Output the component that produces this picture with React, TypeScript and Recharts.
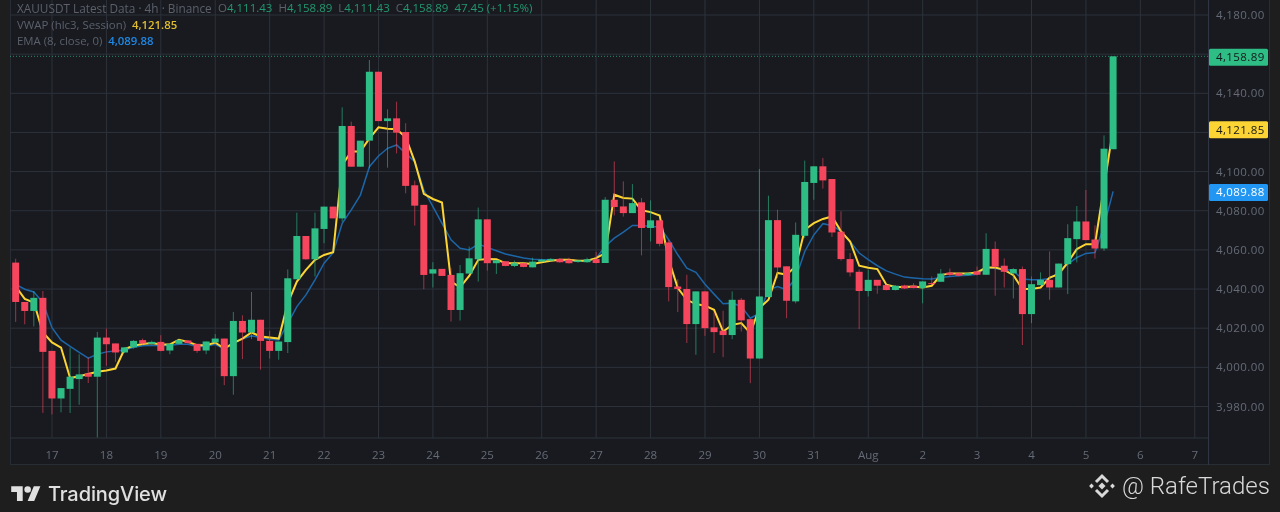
import {
  Bar,
  CartesianGrid,
  ComposedChart,
  Line,
  ReferenceLine,
  XAxis,
  YAxis,
} from "recharts";

const dayLabels = ["17", "18", "19", "20", "21", "22", "23", "24", "25", "26", "27", "28", "29", "30", "31", "Aug", "2", "3", "4", "5", "6", "7"];
const dayTicks = [4, 10, 16, 22, 28, 34, 40, 46, 52, 58, 64, 70, 76, 82, 88, 94, 100, 106, 112, 118, 124, 130];
const priceTicks = [4180, 4160, 4140, 4120, 4100, 4080, 4060, 4040, 4020, 4000, 3980];
const hiddenPriceTicks = [4160, 4120];

const opens = [
  4053.5, 4033.4, 4028.8, 4035.5, 4008.4, 3984.1, 3989, 3994, 3996.9, 3995.2, 4015.2, 4012.2, 4007.6, 4010.2, 4013.9, 4012, 4013, 4008.6, 4012, 4013.7,
  4012, 4008.6, 4012.7, 4014.7, 3995.5, 4023.7, 4017.8, 4024.3, 4013.5, 4008.4, 4012.9, 4045, 4067.1, 4055.2, 4070.7, 4082.1, 4076.1, 4123.3, 4102.5, 4115.8,
  4151, 4125.8, 4127.2, 4120.2, 4093, 4083, 4047.9, 4050.3, 4047.2, 4029.3, 4047.9, 4055.2, 4075.6, 4053.2, 4054.2, 4051.8, 4053.2, 4051.1, 4054, 4054.5,
  4055.4, 4055, 4053.8, 4053.7, 4055.3, 4053.3, 4085.6, 4082.2, 4078.8, 4084.3, 4071.2, 4075.1, 4063.8, 4041.3, 4040, 4022.1, 4038.8, 4020.4, 4018.7, 4016.5,
  4034.5, 4024.6, 4004.5, 4035.9, 4075.2, 4051.6, 4033.7, 4067.2, 4094.2, 4102.7, 4096.2, 4069.3, 4055.3, 4048.8, 4039, 4044.7, 4042, 4039.5, 4041.8, 4041.7,
  4040.5, 4043, 4043.7, 4048.4, 4048.1, 4047.1, 4049, 4047.3, 4060.5, 4051.9, 4048, 4050.2, 4027.2, 4042, 4044.7, 4040.8, 4052.7, 4065.5, 4074.5, 4065.3,
  4060.7, 4111.43,
];
const closes = [
  4033.4, 4028.8, 4035.5, 4007.9, 3984.1, 3989.4, 3995.2, 3996.4, 3995.2, 4015.2, 4011.8, 4007.6, 4010.2, 4013.5, 4012.2, 4013, 4008.4, 4012, 4013.9, 4012.4,
  4008.4, 4013.2, 4014.7, 3995.5, 4023.7, 4017.8, 4024.3, 4013.5, 4008.4, 4013.2, 4045.5, 4067.1, 4055.2, 4071, 4082.1, 4076.1, 4123.3, 4102.5, 4115.8, 4151,
  4125.8, 4127.2, 4119.9, 4092.7, 4082.6, 4047.2, 4050.1, 4046.7, 4029.3, 4048.1, 4055.7, 4075.6, 4053.2, 4054.7, 4051.8, 4053.2, 4051.3, 4054, 4055, 4055.4,
  4053.7, 4053.2, 4054.6, 4055.2, 4053.3, 4085.6, 4081.9, 4078.8, 4083.9, 4071.2, 4075.1, 4063.1, 4041, 4040, 4022.1, 4038.8, 4020, 4018, 4016.5, 4034.5,
  4024, 4004.5, 4036.2, 4075.2, 4051, 4034, 4067.7, 4094.7, 4102.7, 4095.5, 4068.9, 4055.3, 4048.5, 4039, 4044.7, 4041.7, 4039.5, 4041.7, 4040.3, 4040.5,
  4043.9, 4042.5, 4047.9, 4047.3, 4046.8, 4048.1, 4047.3, 4060.5, 4051.4, 4048.8, 4050.2, 4027.2, 4042.5, 4044.7, 4040.8, 4053, 4066, 4074.5, 4065, 4060.7,
  4111.7, 4158.89,
];
const highs = [
  4055.5, 4033.4, 4039, 4039, 4008.4, 3989.4, 4010.1, 4006.7, 4005, 4018.1, 4019.8, 4012.2, 4010.2, 4014, 4014.7, 4013.6, 4016.4, 4012.2, 4014.4, 4014,
  4012, 4013.2, 4017, 4014.7, 4028.3, 4026.6, 4038.5, 4024.3, 4018.6, 4013.2, 4050, 4079, 4067.1, 4079, 4082.1, 4082.1, 4132.8, 4125.5, 4115.8, 4157,
  4151, 4131.8, 4135.7, 4124.7, 4095.4, 4083, 4053.7, 4050.3, 4050.6, 4052.3, 4061.7, 4081.6, 4075.6, 4054.7, 4054.2, 4054.5, 4053.2, 4056, 4055.4, 4055.8,
  4055.8, 4056, 4055, 4056, 4059, 4087, 4105.2, 4095, 4093.6, 4086.5, 4085.3, 4075.1, 4065, 4045, 4047.3, 4038.8, 4038.8, 4028.2, 4028.9, 4038.8,
  4035.4, 4024.6, 4101.3, 4087.7, 4080.5, 4051.6, 4074, 4105.6, 4102.7, 4107, 4096.2, 4079.7, 4058.4, 4050, 4049.9, 4044.7, 4042.4, 4042, 4042.2, 4043,
  4043.9, 4046.4, 4050.2, 4050.5, 4048.4, 4048.6, 4051.5, 4068.5, 4064.3, 4055.6, 4050.7, 4051.5, 4046.4, 4048.5, 4059.2, 4053, 4073.1, 4082.4, 4090.6, 4072.6,
  4118.5, 4158.89,
];
const lows = [
  4023.2, 4022, 4020.9, 3976.7, 3976, 3977, 3976.7, 3980.9, 3992, 3964.2, 4000.8, 4002.8, 4007.3, 4009.5, 4011.5, 4011.6, 4008.2, 4006.7, 4011.7, 4012,
  4007.4, 4006.7, 4012.4, 3990.9, 3986, 4004.2, 4014.4, 3998.8, 4004.5, 4003.9, 4007.3, 4045, 4055, 4046.4, 4063.4, 4076.1, 4074.4, 4102.5, 4102.5, 4101.7,
  4125.8, 4102, 4109.3, 4088.9, 4072.4, 4039.9, 4040.8, 4046.7, 4023.4, 4023.9, 4047.9, 4043.8, 4049.4, 4047.7, 4051.6, 4051.2, 4051.1, 4051, 4053.8, 4054.2,
  4053.4, 4053, 4053.4, 4053.4, 4053, 4053.3, 4077.6, 4077, 4078.8, 4057.2, 4064.3, 4061.8, 4033.7, 4028.2, 4012.4, 4006.4, 4016.1, 4007.3, 4005.2, 4014.4,
  4018.3, 3991.9, 4004.5, 4035.9, 4045.6, 4025.1, 4032.7, 4066, 4085.6, 4091.3, 4066.6, 4054.5, 4046.4, 4019.5, 4036.2, 4037.6, 4039.3, 4039.3, 4040, 4040.3,
  4032.7, 4042, 4043.7, 4046.5, 4046.5, 4046.9, 4047, 4047.3, 4036.6, 4040.8, 4035.2, 4011.4, 4022.6, 4042, 4034.5, 4040.8, 4037.4, 4053.6, 4065, 4055.6,
  4059.5, 4111.43,
];
const vwap = [
  4041.3, 4035, 4033.1, 4017.8, 4012.7, 4010.1, 3994.5, 3995.4, 3996.6, 3997.7, 3998.4, 3999.4, 4009.3, 4011, 4011.9, 4012.4, 4011.7, 4011.7, 4014.1, 4013,
  4011.3, 4011.3, 4012.7, 4009.6, 4012.4, 4014.7, 4017.8, 4015.8, 4015.2, 4014.7, 4032.8, 4043.8, 4049.8, 4054.9, 4057.4, 4058.8, 4103.4, 4110.2, 4110.2, 4117,
  4122.6, 4121.9, 4121.6, 4117.5, 4105.1, 4088.6, 4086, 4084.2, 4043.8, 4040.9, 4046.7, 4054.9, 4055.4, 4055.2, 4053.2, 4053.2, 4053.2, 4052.8, 4053.7, 4054.5,
  4054.9, 4054.9, 4054.5, 4054.5, 4055.8, 4058.4, 4088.2, 4086.5, 4086.2, 4080.2, 4079.3, 4077.6, 4055, 4040.5, 4034.5, 4032.3, 4031.5, 4029.4, 4018.3, 4021.7,
  4022.6, 4017.5, 4030.3, 4034.5, 4048.2, 4047.3, 4051.6, 4070.3, 4073.7, 4075.8, 4077.1, 4069.5, 4064.3, 4051.9, 4050.9, 4050.2, 4042.2, 4041, 4041, 4041.3,
  4040.8, 4041.7, 4047.1, 4048, 4048, 4048, 4048.5, 4051, 4051, 4049.8, 4047.1, 4040, 4040, 4040.8, 4045.9, 4047.6, 4053.6, 4060.4, 4062.9, 4062.9,
  4092.6, 4121.85,
];
const ema = [
  4042.4, 4039.9, 4038.5, 4033.1, 4020.3, 4013.9, 4010.7, 4007.6, 4004.7, 4006.7, 4007.9, 4008.4, 4008.8, 4010.3, 4011, 4011.3, 4011, 4011.3, 4011.8, 4011.8,
  4010.7, 4010.7, 4011.8, 4009.3, 4012.7, 4014.4, 4016.1, 4015.2, 4014.4, 4014, 4022.5, 4031, 4037, 4044.7, 4053.2, 4058.6, 4073.6, 4080.4, 4088, 4102.5,
  4108, 4111.9, 4113.6, 4109.3, 4105.1, 4090.6, 4082.1, 4073.6, 4065.1, 4060.8, 4060, 4063, 4061.3, 4059.6, 4057.9, 4056.9, 4055.9, 4055.2, 4054.9, 4054.9,
  4054.5, 4054.5, 4054.5, 4054.5, 4055.8, 4061.8, 4066, 4069.1, 4072.5, 4072.5, 4072, 4071.7, 4065.2, 4057.5, 4050.7, 4048.5, 4042.5, 4037.4, 4032.5, 4032.8,
  4031.1, 4025.1, 4027.7, 4039.6, 4041.3, 4039.6, 4045.6, 4059.2, 4067.7, 4073.4, 4072.5, 4069.5, 4064.3, 4058.4, 4055, 4051.9, 4049.3, 4047.6, 4046.1, 4045.6,
  4045.2, 4045.1, 4045.9, 4046.4, 4046.8, 4047.1, 4047.6, 4051, 4050.5, 4050.2, 4049.3, 4045.1, 4044.7, 4044.7, 4045.4, 4048.5, 4052.7, 4056.1, 4058.2, 4058.7,
  4072.3, 4089.88,
];

const candles = opens.map((open, i) => ({
  idx: i,
  open,
  close: closes[i],
  high: highs[i],
  low: lows[i],
  range: [lows[i], highs[i]],
  vwap: vwap[i],
  ema: ema[i],
}));

const UP = "#2ebd85";
const DOWN = "#f6465d";
const GRID = "#2d323b";
const AXIS_TEXT = "#666b76";
const FONT = "'Open Sans', sans-serif";

function Candle(props: any) {
  const { x, y, width, height, payload } = props;
  const perUnit = height / (payload.high - payload.low);
  const color = payload.close >= payload.open ? UP : DOWN;
  const top = y + (payload.high - Math.max(payload.open, payload.close)) * perUnit;
  const bodyHeight = Math.abs(payload.open - payload.close) * perUnit;
  const mid = x + width / 2;
  return (
    <g>
      <line x1={mid} x2={mid} y1={y} y2={y + height} stroke={color} strokeOpacity={0.6} strokeWidth={1} />
      <rect x={x} y={top} width={width} height={Math.max(bodyHeight, 1)} fill={color} />
    </g>
  );
}

function PriceTag(props: any) {
  const { viewBox, fill, color, text } = props;
  const left = viewBox.x + viewBox.width;
  return (
    <g>
      <rect x={left + 1} y={viewBox.y - 7.5} width={59} height={17} rx={1.5} fill={fill} />
      <text x={left + 8} y={viewBox.y + 5} fill={color} fontSize={11.5} fontFamily={FONT} fontWeight={500} letterSpacing={0.4}>
        {text}
      </text>
    </g>
  );
}

const legendRow = { position: "absolute", left: 17, whiteSpace: "pre", font: `11.4px ${FONT}`, color: "#5b606b" } as const;

export default function App() {
  return (
    <div style={{ position: "fixed", left: 0, top: 0, width: 1280, height: 512, background: "#1e1e1e", overflow: "hidden", filter: "blur(0.4px)" }}>
      <div style={{ position: "absolute", left: 10, top: 0, width: 1260, height: 465, background: "#181a20", border: "1px solid #282c34", borderTop: "none", boxSizing: "border-box" }} />
      <div style={{ position: "absolute", left: 1208, top: 0, width: 1, height: 465, background: "#2f3542" }} />
      <div style={{ position: "absolute", left: 0, top: 0 }}>
        <ComposedChart width={1280} height={512} data={candles} margin={{ top: 0, right: 10, bottom: 47, left: 10 }}>
          <CartesianGrid stroke={GRID} strokeWidth={1} horizontalValues={priceTicks} verticalValues={dayTicks} />
          <XAxis
            dataKey="idx"
            type="number"
            domain={[-0.63, 131.46]}
            ticks={dayTicks}
            interval={0}
            height={27}
            tickLine={false}
            axisLine={{ stroke: GRID }}
            tick={{ fill: AXIS_TEXT, fontSize: 11.5, fontFamily: FONT }}
            tickMargin={7}
            tickFormatter={(v: number) => dayLabels[dayTicks.indexOf(v)]}
          />
          <YAxis
            orientation="right"
            type="number"
            domain={[3963.9, 4187.66]}
            allowDataOverflow
            ticks={priceTicks}
            interval={0}
            width={62}
            tickLine={false}
            axisLine={false}
            tick={{ fill: AXIS_TEXT, fontSize: 11.5, fontFamily: FONT, textAnchor: "start", letterSpacing: 0.4 }}
            tickMargin={2}
            tickFormatter={(v: number) =>
              hiddenPriceTicks.includes(v) ? "" : v.toLocaleString("en-US", { minimumFractionDigits: 2 })
            }
          />
          <Line dataKey="ema" type="linear" stroke="#1c66a8" strokeWidth={1.5} dot={false} activeDot={false} isAnimationActive={false} />
          <Line dataKey="vwap" type="linear" stroke="#fcd535" strokeWidth={2} dot={false} activeDot={false} isAnimationActive={false} />
          <Bar dataKey="range" barSize={7} shape={<Candle />} isAnimationActive={false} zIndex={500} />
          <ReferenceLine y={4158.89} stroke={UP} strokeOpacity={0.7} strokeDasharray="1 2" label={<PriceTag fill={UP} color="#14161a" text="4,158.89" />} zIndex={600} />
          <ReferenceLine y={4121.85} stroke="none" label={<PriceTag fill="#fcd535" color="#14161a" text="4,121.85" />} zIndex={600} />
          <ReferenceLine y={4089.88} stroke="none" label={<PriceTag fill="#2196f3" color="#ffffff" text="4,089.88" />} zIndex={600} />
        </ComposedChart>
      </div>

      <div style={{ ...legendRow, top: 0, fontSize: 11.8 }}>
        XAUUSDT Latest Data · 4h · Binance
      </div>
      <div style={{ ...legendRow, top: 0, left: 218, fontSize: 11.5 }}>
        O<span style={{ color: "#22996e" }}>4,111.43</span>  H<span style={{ color: "#22996e" }}>4,158.89</span>  L<span style={{ color: "#22996e" }}>4,111.43</span>  C<span style={{ color: "#22996e" }}>4,158.89</span>  <span style={{ color: "#22996e" }}>47.45 (+1.15%)</span>
      </div>
      <div style={{ ...legendRow, top: 17 }}>
        VWAP (hlc3, Session)  <span style={{ color: "#e0bd2e", fontWeight: 600 }}>4,121.85</span>
      </div>
      <div style={{ ...legendRow, top: 33 }}>
        EMA (8, close, 0)  <span style={{ color: "#1e88e5", fontWeight: 600 }}>4,089.88</span>
      </div>

      <svg width={36} height={28} viewBox="0 0 36 28" style={{ position: "absolute", left: 11, top: 483, width: 30, height: 23 }}>
        <path fill="#e0e0e0" d="M14 22H7V11H0V4h14v18zM28 22h-8l7.5-18h8L28 22z" />
        <circle cx={20} cy={8} r={4} fill="#e0e0e0" />
      </svg>
      <div style={{ position: "absolute", left: 48, top: 482, font: "500 20px Inter, sans-serif", color: "#e0e0e0", letterSpacing: -0.1 }}>
        TradingView
      </div>

      <svg width={28} height={28} viewBox="-14 -14 28 28" style={{ position: "absolute", left: 1088, top: 472 }}>
        <g fill="none" stroke="#d9d9d9" strokeWidth={3}>
          <path d="M-6 -4 L0 -10 L6 -4" />
          <path d="M-6 4 L0 10 L6 4" />
        </g>
        <g fill="#d9d9d9">
          <rect x={-2.5} y={-2.5} width={5} height={5} transform="rotate(45)" />
          <rect x={-1.7} y={-1.7} width={3.4} height={3.4} transform="translate(-10.5 0) rotate(45)" />
          <rect x={-1.7} y={-1.7} width={3.4} height={3.4} transform="translate(10.5 0) rotate(45)" />
        </g>
      </svg>
      <div style={{ position: "absolute", left: 1122, top: 472, font: "300 24px Roboto, sans-serif", color: "#d9d9d9", whiteSpace: "pre" }}>
        @ RafeTrades
      </div>
    </div>
  );
}
